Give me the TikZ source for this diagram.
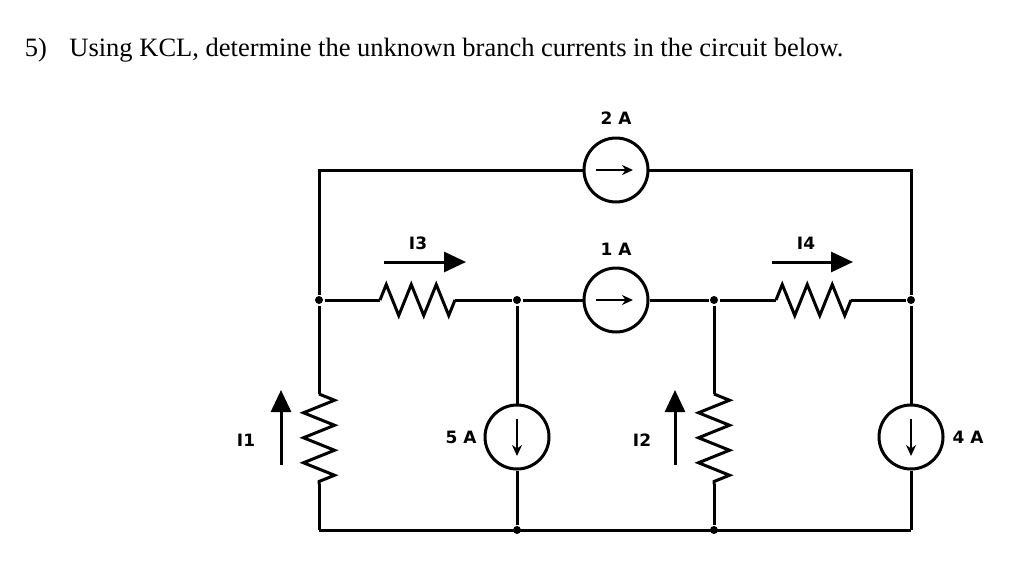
\documentclass[tikz,border=0pt]{standalone}
\usepackage{fontspec}
\setmainfont{Liberation Serif}
\newfontfamily\lbl{DejaVu Sans}
\usetikzlibrary{arrows.meta,decorations.pathmorphing}
\begin{document}
\begin{tikzpicture}[x=1pt,y=-1pt,line width=3pt,
  src/.style={circle,draw,minimum size=64pt,inner sep=0pt,fill=white},
  lab/.style={font=\lbl\bfseries\fontsize{17}{17}\selectfont},
  dot/.style={circle,fill,inner sep=0pt,minimum size=8pt},
  res/.style={decorate,decoration={zigzag,amplitude=15.5pt,segment length=25pt,pre length=0pt,post length=0pt}},
  cur/.style={-{Triangle[length=22pt,width=20pt]},line width=3pt},
  inar/.style={-{Stealth[length=11pt,width=10pt]},line width=2pt}]
\useasboundingbox (0,0) rectangle (1024,570);
\node[anchor=base west,font=\fontsize{26.5}{26.5}\selectfont] (title) at (20,56)
  {5)\hspace{0.6em} Using KCL, determine the unknown branch currents in the circuit below.};
% nodes
\coordinate (tl) at (319,170); \coordinate (tr) at (911,170);
\coordinate (bl) at (319,530); \coordinate (br) at (911,530);
\node[dot] (n1) at (319,300) {};
\node[dot] (n2) at (517,300) {};
\node[dot] (n3) at (714,300) {};
\node[dot] (n4) at (911,300) {};
\node[dot] (b2) at (517,530) {};
\node[dot] (b3) at (714,530) {};
% wires
\draw (n1) -- (tl) -- (tr) -- (n4);
\draw (bl) -- (br);
\node[src] (s2) at (616,170) {};
\node[src] (s1) at (616,300) {};
\node[src] (s5) at (517,437) {};
\node[src] (s4) at (911,437) {};
\coordinate (r3a) at (380,300); \coordinate (r3b) at (455,300);
\coordinate (r4a) at (776,300); \coordinate (r4b) at (851,300);
\coordinate (r1a) at (319,394); \coordinate (r1b) at (319,484);
\coordinate (r2a) at (714,394); \coordinate (r2b) at (714,484);
\draw (n1) -- (r3a); \draw[res] (r3a) -- (r3b); \draw (r3b) -- (n2);
\draw (n2) -- (s1) -- (n3);
\draw (n3) -- (r4a); \draw[res] (r4a) -- (r4b); \draw (r4b) -- (n4);
\draw (n1) -- (r1a); \draw[res] (r1a) -- (r1b); \draw (r1b) -- (bl);
\draw (n3) -- (r2a); \draw[res] (r2a) -- (r2b); \draw (r2b) -- (b3);
\draw (n2) -- (s5) -- (b2);
\draw (n4) -- (s4) -- (br);
% source arrows
\draw[inar] ([xshift=-20pt]s2.center) -- ([xshift=17pt]s2.center);
\draw[inar] ([xshift=-20pt]s1.center) -- ([xshift=17pt]s1.center);
\draw[inar] ([yshift=18pt]s5.center) -- ([yshift=-19pt]s5.center);
\draw[inar] ([yshift=18pt]s4.center) -- ([yshift=-19pt]s4.center);
% current arrows
\coordinate (i3a) at (384,262); \coordinate (i3b) at (466,262);
\coordinate (i4a) at (772,262); \coordinate (i4b) at (853,262);
\coordinate (i1a) at (281,465); \coordinate (i1b) at (281,390);
\coordinate (i2a) at (675,465); \coordinate (i2b) at (675,390);
\draw[cur] (i3a) -- (i3b); \draw[cur] (i4a) -- (i4b);
\draw[cur] (i1a) -- (i1b); \draw[cur] (i2a) -- (i2b);
% labels
\node[lab] (l2) at (616,118) {2 A};
\node[lab] (l1) at (616,249) {1 A};
\node[lab] (l3) at (418,243) {I3};
\node[lab] (l4) at (806,243) {I4};
\node[lab] (li1) at (246,440) {I1};
\node[lab] (li2) at (642,440) {I2};
\node[lab] (l5) at (461,437) {5 A};
\node[lab] (l44) at (968,437) {4 A};
\end{tikzpicture}
\end{document}
